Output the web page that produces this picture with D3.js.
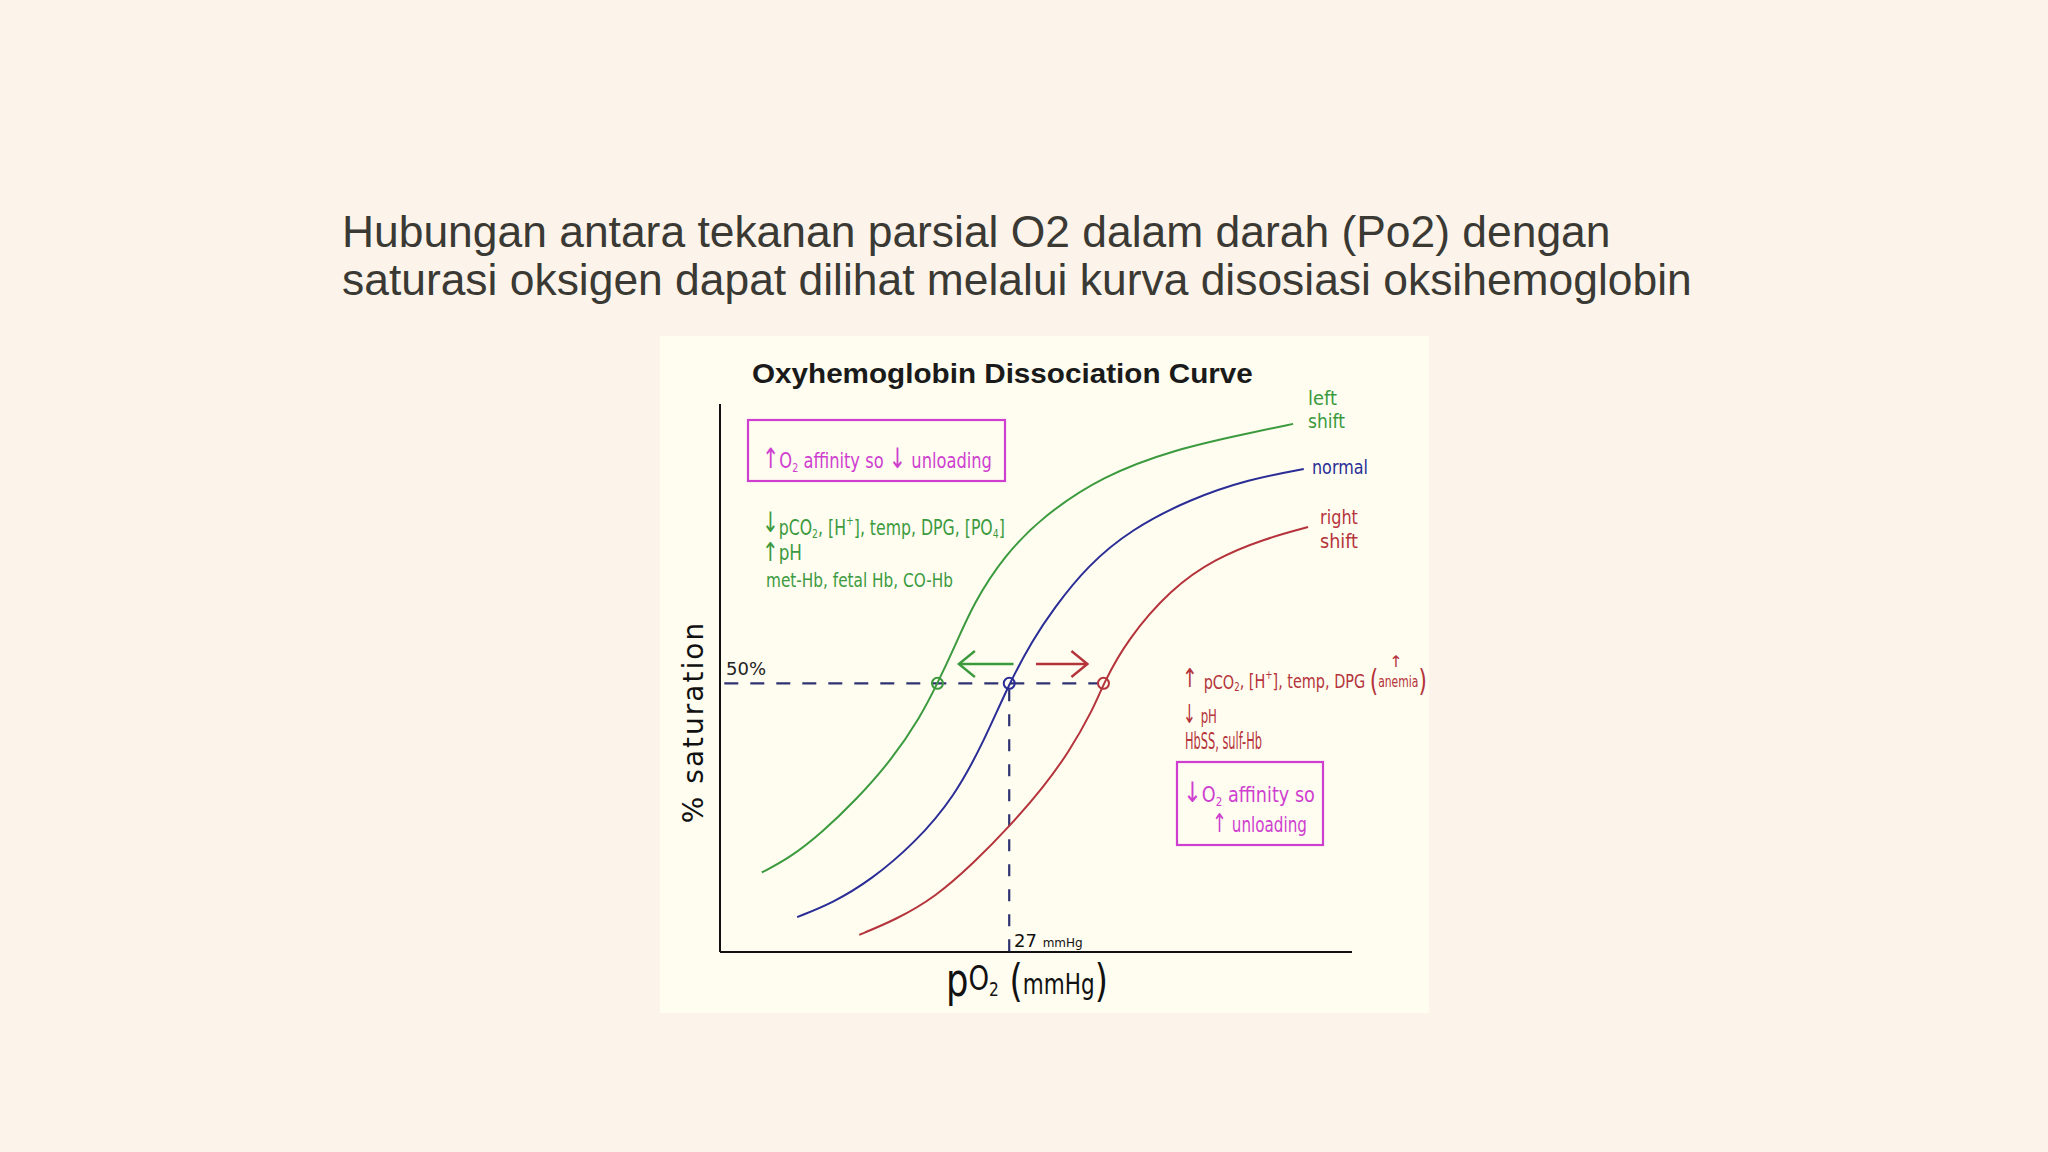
<!DOCTYPE html>
<html>
<head>
<meta charset="utf-8">
<script src="https://cdn.jsdelivr.net/npm/d3@7"></script>
<style>
  html, body { margin: 0; padding: 0; background: #fcf4ea; }
  svg { display: block; }
</style>
</head>
<body>
<script>
const width = 2048;
const height = 1152;

// values: [pO2 mmHg, % saturation]
const leftShift = [[3.9,14.8],[6.5,17.5],[9.5,22.2],[12.7,28.3],[16.0,35.7],[18.7,43.7],[20.3,50],[21.9,56.8],
  [23.7,65.0],[26.5,73.7],[30.2,81.2],[35.7,88.6],[42.5,93.6],[49.4,96.6],[53.5,98.3]];
const normalCurve = [[7.2,6.5],[10.5,9.1],[14.1,13.4],[18.2,20.3],[21.9,28.9],[24.7,39.5],[27,50],[29.2,58.1],
  [31.1,63.8],[34.3,71.9],[38.4,78.7],[43.9,84.3],[49.4,88.0],[54.5,89.9]];
const rightShift = [[13.0,3.2],[16.4,6.0],[20.1,10.2],[23.7,16.6],[27.0,23.3],[30.2,30.7],[32.5,37.0],[34.8,45.0],
  [35.8,50],[38.0,58.1],[42.1,67.6],[46.2,73.2],[50.8,76.9],[54.9,79.1]];
const p50 = [20.3, 27, 35.8];        // left, normal, right
const curveNames = ["left shift", "normal", "right shift"];
const arrowSat = 53.6;
const leftArrow = [27.4, 22.3];
const rightArrow = [29.5, 34.3];

const colGreen = "#3c9a3e", colBlue = "#2b2d96", colRed = "#b5333b", colMag = "#cf3fcf", colDash = "#2e3270";
const hand = "'DejaVu Sans', sans-serif";

const svg = d3.select("body").append("svg")
  .attr("width", width).attr("height", height);

svg.append("rect").attr("width", width).attr("height", height).attr("fill", "#fcf4ea");

// squeeze a text horizontally so it spans w pixels (the handwriting is narrow)
function fit(sel, w) {
  const b = sel.node().getBBox();
  sel.attr("transform", `translate(${b.x},0) scale(${w / b.width},1) translate(${-b.x},0)`);
  return sel;
}

// heading
const head = svg.append("text")
  .attr("font-family", "'Liberation Sans', Arial, sans-serif")
  .attr("font-size", 44.4).attr("fill", "#3a3934");
head.append("tspan").attr("x", 342).attr("y", 247)
  .text("Hubungan antara tekanan parsial O2 dalam darah (Po2) dengan");
head.append("tspan").attr("x", 342).attr("y", 295)
  .text("saturasi oksigen dapat dilihat melalui kurva disosiasi oksihemoglobin");

// chart panel
svg.append("rect").attr("x", 660).attr("y", 336).attr("width", 769).attr("height", 677)
  .attr("fill", "#fefdf0");

fit(svg.append("text").attr("x", 752).attr("y", 383)
  .attr("font-family", "'Liberation Sans', Arial, sans-serif").attr("font-weight", "bold")
  .attr("font-size", 28).attr("fill", "#1a1a1a")
  .text("Oxyhemoglobin Dissociation Curve"), 501);

const x = d3.scaleLinear().domain([0, 59]).range([720, 1352]);
const y = d3.scaleLinear().domain([0, 102]).range([952, 404]);

// axes (plain lines, no ticks)
svg.append("line").attr("x1", x(0)).attr("x2", x(0)).attr("y1", y(102)).attr("y2", y(0))
  .attr("stroke", "#111").attr("stroke-width", 2);
svg.append("line").attr("x1", x(0)).attr("x2", x(59)).attr("y1", y(0)).attr("y2", y(0))
  .attr("stroke", "#111").attr("stroke-width", 2.2);

// dashed guides
svg.append("line").attr("x1", x(0.4)).attr("x2", x(p50[2]) - 5).attr("y1", y(50)).attr("y2", y(50))
  .attr("stroke", colDash).attr("stroke-width", 2.4).attr("stroke-dasharray", "14 12");
svg.append("line").attr("x1", x(p50[1])).attr("x2", x(p50[1])).attr("y1", y(50) + 6).attr("y2", y(0) + 4)
  .attr("stroke", colDash).attr("stroke-width", 2.2).attr("stroke-dasharray", "12 13");

const line = d3.line().x(d => x(d[0])).y(d => y(d[1])).curve(d3.curveBasis);
const series = [leftShift, normalCurve, rightShift];
const colors = [colGreen, colBlue, colRed];

svg.append("g").selectAll("path").data(series).enter().append("path")
  .attr("d", line).attr("fill", "none")
  .attr("stroke", (d, i) => colors[i]).attr("stroke-width", 2);

svg.append("g").selectAll("circle").data(p50).enter().append("circle")
  .attr("cx", d => x(d)).attr("cy", y(50)).attr("r", 5.5)
  .attr("fill", "none").attr("stroke", (d, i) => colors[i]).attr("stroke-width", 2);

// shift arrows
function arrow(xs, color) {
  const g = svg.append("g").attr("stroke", color).attr("stroke-width", 2.4).attr("fill", "none");
  const x0 = x(xs[0]), x1 = x(xs[1]), yy = y(arrowSat);
  const dir = x1 > x0 ? -1 : 1;
  g.append("line").attr("x1", x0).attr("x2", x1).attr("y1", yy).attr("y2", yy);
  g.append("path").attr("d", `M${x1 + dir * 16},${yy - 13} L${x1},${yy} L${x1 + dir * 16},${yy + 13}`);
}
arrow(leftArrow, colGreen);
arrow(rightArrow, colRed);

// curve end labels
const lbl = svg.append("g").attr("font-family", hand).attr("font-size", 19);
fit(lbl.append("text").attr("x", 1308).attr("y", 405).attr("fill", colGreen).text("left"), 29);
fit(lbl.append("text").attr("x", 1308).attr("y", 428).attr("fill", colGreen).text("shift"), 37);
fit(lbl.append("text").attr("x", 1312).attr("y", 474).attr("fill", colBlue).text("normal"), 56);
fit(lbl.append("text").attr("x", 1320).attr("y", 524).attr("fill", colRed).text("right"), 38);
fit(lbl.append("text").attr("x", 1320).attr("y", 548).attr("fill", colRed).text("shift"), 38);
lbl.selectAll("title").data(curveNames).enter().append("title").text(d => d);

// axis labels
svg.append("text").attr("x", 726).attr("y", 675).attr("font-family", hand).attr("font-size", 18)
  .attr("fill", "#222").text("50%");
const t27 = svg.append("text").attr("x", 1014).attr("y", 947).attr("font-family", hand).attr("fill", "#111");
t27.append("tspan").attr("font-size", 18).text("27 ");
t27.append("tspan").attr("font-size", 12).text("mmHg");

const xl = svg.append("text").attr("x", 946).attr("y", 996).attr("font-family", hand).attr("fill", "#111");
xl.append("tspan").attr("font-size", 46).text("p");
xl.append("tspan").attr("font-size", 34).attr("dy", -6).text("O");
xl.append("tspan").attr("font-size", 20).attr("dy", 6).text("2");
xl.append("tspan").attr("font-size", 44).text(" (");
xl.append("tspan").attr("font-size", 28).attr("dy", -2).text("mmHg");
xl.append("tspan").attr("font-size", 44).attr("dy", 2).text(")");
fit(xl, 162);

svg.append("text").attr("transform", "translate(703,722) rotate(-90)")
  .attr("text-anchor", "middle").attr("font-family", hand).attr("font-size", 28)
  .attr("letter-spacing", 2).attr("fill", "#111").text("%  saturation");

// top-left annotation
svg.append("rect").attr("x", 748).attr("y", 420).attr("width", 257).attr("height", 61)
  .attr("fill", "none").attr("stroke", colMag).attr("stroke-width", 2.2);
const m1 = svg.append("text").attr("x", 762).attr("y", 468).attr("font-family", hand)
  .attr("font-size", 22).attr("fill", colMag);
m1.append("tspan").attr("font-size", 28).text("↑");
m1.append("tspan").text("O");
m1.append("tspan").attr("font-size", 13).attr("dy", 4).text("2");
m1.append("tspan").attr("dy", -4).text(" affinity so ");
m1.append("tspan").attr("font-size", 28).text("↓");
m1.append("tspan").text(" unloading");
fit(m1, 230);

const g1 = svg.append("g").attr("font-family", hand).attr("font-size", 22).attr("fill", colGreen);
const gl1 = g1.append("text").attr("x", 762).attr("y", 535);
gl1.append("tspan").attr("font-size", 28).attr("dy", -3).text("↓");
gl1.append("tspan").attr("dy", 3).text("pCO");
gl1.append("tspan").attr("font-size", 13).attr("dy", 3).text("2");
gl1.append("tspan").attr("dy", -3).text(", [H");
gl1.append("tspan").attr("font-size", 13).attr("dy", -10).text("+");
gl1.append("tspan").attr("dy", 10).text("], temp, DPG, [PO");
gl1.append("tspan").attr("font-size", 13).attr("dy", 3).text("4");
gl1.append("tspan").attr("dy", -3).text("]");
fit(gl1, 243);
const gl2 = g1.append("text").attr("x", 762).attr("y", 561);
gl2.append("tspan").attr("font-size", 26).text("↑");
gl2.append("tspan").attr("dy", -1).text("pH");
fit(gl2, 40);
fit(g1.append("text").attr("x", 766).attr("y", 587).attr("font-size", 20).text("met-Hb, fetal Hb, CO-Hb"), 187);

// right annotation
const r1 = svg.append("g").attr("font-family", hand).attr("font-size", 20).attr("fill", colRed);
const rl1 = r1.append("text").attr("x", 1182).attr("y", 688);
rl1.append("tspan").attr("font-size", 26).attr("dy", -1).text("↑ ");
rl1.append("tspan").attr("dy", 2).text("pCO");
rl1.append("tspan").attr("font-size", 12).attr("dy", 2).text("2");
rl1.append("tspan").attr("dy", -3).text(", [H");
rl1.append("tspan").attr("font-size", 12).attr("dy", -9).text("+");
rl1.append("tspan").attr("dy", 9).text("], temp, DPG ");
rl1.append("tspan").attr("font-size", 30).attr("dy", 3).text("(");
rl1.append("tspan").attr("font-size", 15).attr("dy", -4).text("anemia");
rl1.append("tspan").attr("font-size", 30).attr("dy", 4).text(")");
fit(rl1, 245);
r1.append("text").attr("x", 1396).attr("y", 667).attr("font-size", 16).attr("text-anchor", "middle").text("↑");
const rl2 = r1.append("text").attr("x", 1183).attr("y", 723);
rl2.append("tspan").attr("font-size", 26).text("↓ ");
rl2.append("tspan").text("pH");
fit(rl2, 34);
fit(r1.append("text").attr("x", 1185).attr("y", 749).attr("font-size", 23).text("HbSS, sulf-Hb"), 77);

svg.append("rect").attr("x", 1177).attr("y", 762).attr("width", 146).attr("height", 83)
  .attr("fill", "none").attr("stroke", colMag).attr("stroke-width", 2.2);
const m2 = svg.append("text").attr("x", 1183).attr("y", 802).attr("font-family", hand)
  .attr("font-size", 22).attr("fill", colMag);
m2.append("tspan").attr("font-size", 28).text("↓");
m2.append("tspan").text("O");
m2.append("tspan").attr("font-size", 13).attr("dy", 4).text("2");
m2.append("tspan").attr("dy", -4).text(" affinity so");
fit(m2, 132);
const m3 = svg.append("text").attr("x", 1212).attr("y", 832).attr("font-family", hand)
  .attr("font-size", 22).attr("fill", colMag);
m3.append("tspan").attr("font-size", 26).text("↑");
m3.append("tspan").text(" unloading");
fit(m3, 95);
</script>
</body>
</html>
